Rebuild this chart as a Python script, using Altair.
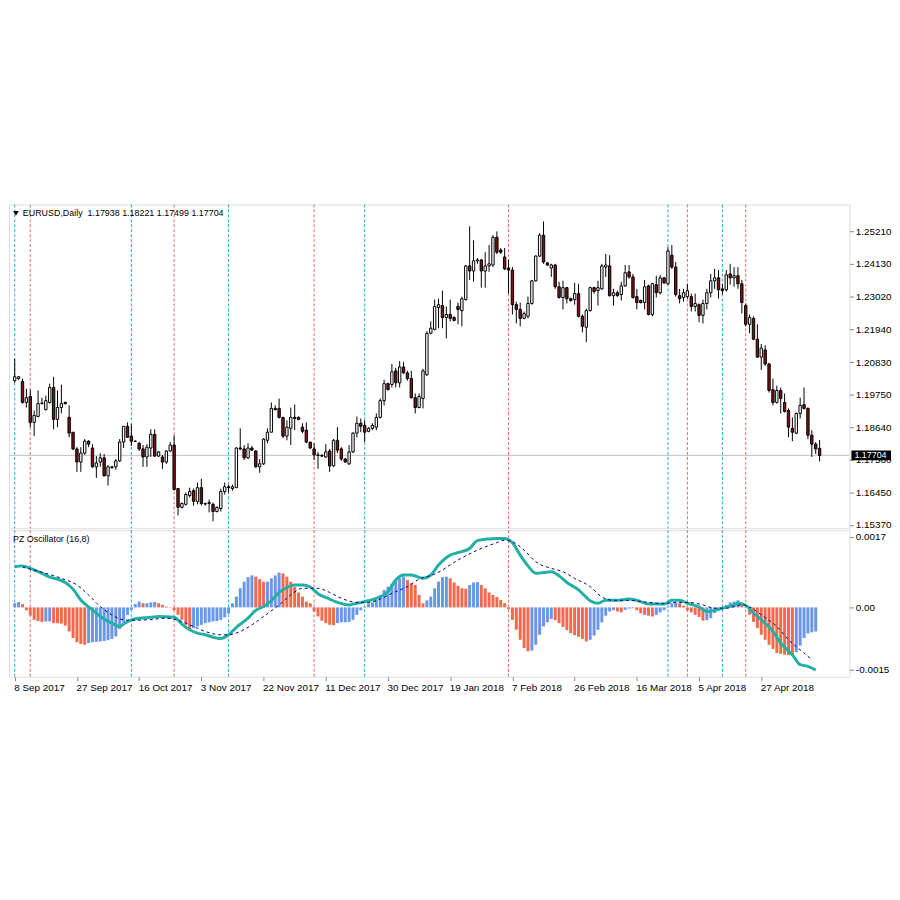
import altair as alt
import pandas as pd

# ---------------- data ----------------
symbol = "EURUSD,Daily"
indicator_name = "PZ Oscillator (16,8)"

open_ = [
    1.2021, 1.2028, 1.2018, 1.1948, 1.1968, 1.1881, 1.1901, 1.1944, 1.1924, 1.1948,
    1.1998, 1.1891, 1.1931, 1.1948, 1.1898, 1.1848, 1.1792, 1.1748, 1.1778, 1.1818,
    1.1795, 1.1732, 1.1748, 1.1762, 1.1702, 1.1729, 1.1732, 1.1752, 1.1815, 1.1868,
    1.1835, 1.1818, 1.1811, 1.1792, 1.1765, 1.1795, 1.1841, 1.1768, 1.1765, 1.1748,
    1.1785, 1.1805, 1.1659, 1.1596, 1.1606, 1.1636, 1.1652, 1.1616, 1.1662, 1.1609,
    1.1609, 1.1606, 1.1582, 1.1592, 1.1649, 1.1665, 1.1659, 1.1662, 1.1795, 1.1792,
    1.1762, 1.1795, 1.1785, 1.1732, 1.1742, 1.1821, 1.1848, 1.1928, 1.1928, 1.1898,
    1.1835, 1.1861, 1.1898, 1.1898, 1.1865, 1.1855, 1.1815, 1.1792, 1.1772, 1.1770,
    1.1765, 1.1785, 1.1735, 1.1821, 1.1792, 1.1758, 1.1742, 1.1782, 1.1845, 1.1878,
    1.1871, 1.1851, 1.1861, 1.1865, 1.1898, 1.1954, 1.2011, 1.2008, 1.2054, 1.2014,
    1.2067, 1.2047, 1.2028, 1.1964, 1.1931, 1.1961, 1.2041, 1.2180, 1.2193, 1.2266,
    1.2273, 1.2233, 1.2243, 1.2233, 1.2270, 1.2256, 1.2293, 1.2406, 1.2389, 1.2423,
    1.2426, 1.2389, 1.2406, 1.2409, 1.2502, 1.2459, 1.2436, 1.2399, 1.2392, 1.2276,
    1.2260, 1.2230, 1.2237, 1.2280, 1.2356, 1.2439, 1.2509, 1.2416, 1.2399, 1.2409,
    1.2336, 1.2300, 1.2333, 1.2296, 1.2293, 1.2313, 1.2237, 1.2200, 1.2256, 1.2333,
    1.2323, 1.2329, 1.2402, 1.2406, 1.2306, 1.2316, 1.2310, 1.2339, 1.2386, 1.2369,
    1.2303, 1.2290, 1.2283, 1.2339, 1.2243, 1.2343, 1.2316, 1.2366, 1.2346, 1.2442,
    1.2402, 1.2306, 1.2300, 1.2303, 1.2303, 1.2270, 1.2276, 1.2240, 1.2280, 1.2316,
    1.2356, 1.2366, 1.2329, 1.2326, 1.2379, 1.2366, 1.2373, 1.2346, 1.2273, 1.2210,
    1.2230, 1.2160, 1.2100, 1.2124, 1.2077, 1.1991, 1.1948, 1.1988, 1.1948, 1.1921,
    1.1861, 1.1845, 1.1911, 1.1941, 1.1928, 1.1838, 1.1808, 1.17938,
]
high_ = [
    1.2094, 1.2037, 1.2028, 1.1994, 1.1991, 1.1921, 1.1988, 1.1964, 1.1971, 1.2011,
    1.2034, 1.1988, 1.2008, 1.1951, 1.1938, 1.1848, 1.1798, 1.1798, 1.1825, 1.1821,
    1.1808, 1.1768, 1.1778, 1.1775, 1.1738, 1.1735, 1.1758, 1.1825, 1.1868, 1.1881,
    1.1875, 1.1821, 1.1815, 1.1805, 1.1808, 1.1858, 1.1858, 1.1785, 1.1772, 1.1788,
    1.1815, 1.1838, 1.1659, 1.1612, 1.1646, 1.1662, 1.1659, 1.1679, 1.1692, 1.1612,
    1.1622, 1.1612, 1.1599, 1.1659, 1.1679, 1.1672, 1.1672, 1.1798, 1.1861, 1.1805,
    1.1811, 1.1802, 1.1788, 1.1758, 1.1828, 1.1861, 1.1948, 1.1938, 1.1961, 1.1898,
    1.1888, 1.1931, 1.1941, 1.1901, 1.1878, 1.1881, 1.1815, 1.1811, 1.1782, 1.1775,
    1.1808, 1.1792, 1.1825, 1.1865, 1.1798, 1.1762, 1.1805, 1.1848, 1.1901, 1.1894,
    1.1888, 1.1865, 1.1878, 1.1911, 1.1961, 1.2024, 1.2014, 1.2077, 1.2064, 1.2087,
    1.2084, 1.2054, 1.2054, 1.1978, 1.1978, 1.2061, 1.2187, 1.2220, 1.2293, 1.2296,
    1.2323, 1.2270, 1.2293, 1.2237, 1.2283, 1.2303, 1.2409, 1.2539, 1.2492, 1.2432,
    1.2429, 1.2452, 1.2476, 1.2509, 1.2522, 1.2466, 1.2466, 1.2426, 1.2402, 1.2286,
    1.2283, 1.2253, 1.2303, 1.2359, 1.2442, 1.2516, 1.2555, 1.2419, 1.2413, 1.2413,
    1.2353, 1.2356, 1.2336, 1.2300, 1.2349, 1.2346, 1.2243, 1.2263, 1.2336, 1.2336,
    1.2356, 1.2413, 1.2446, 1.2442, 1.2329, 1.2323, 1.2353, 1.2409, 1.2409, 1.2379,
    1.2329, 1.2293, 1.2359, 1.2343, 1.2349, 1.2373, 1.2376, 1.2369, 1.2469, 1.2476,
    1.2419, 1.2329, 1.2329, 1.2346, 1.2313, 1.2313, 1.2280, 1.2293, 1.2329, 1.2379,
    1.2396, 1.2392, 1.2346, 1.2392, 1.2413, 1.2402, 1.2402, 1.2359, 1.2280, 1.2243,
    1.2237, 1.2210, 1.2144, 1.2140, 1.2081, 1.2028, 1.2004, 1.1998, 1.1978, 1.1928,
    1.1898, 1.1914, 1.1964, 1.1998, 1.1931, 1.1855, 1.1815, 1.18221,
]
low_ = [
    1.2014, 1.2024, 1.1944, 1.1931, 1.1865, 1.1835, 1.1898, 1.1941, 1.1921, 1.1944,
    1.1858, 1.1865, 1.1911, 1.1941, 1.1831, 1.1788, 1.1715, 1.1715, 1.1772, 1.1798,
    1.1729, 1.1695, 1.1732, 1.1699, 1.1669, 1.1725, 1.1722, 1.1748, 1.1795, 1.1831,
    1.1802, 1.1815, 1.1785, 1.1732, 1.1732, 1.1765, 1.1765, 1.1765, 1.1725, 1.1742,
    1.1782, 1.1652, 1.1569, 1.1592, 1.1602, 1.1629, 1.1602, 1.1606, 1.1602, 1.1602,
    1.1579, 1.1549, 1.1579, 1.1582, 1.1639, 1.1646, 1.1652, 1.1662, 1.1788, 1.1755,
    1.1758, 1.1785, 1.1729, 1.1712, 1.1738, 1.1811, 1.1848, 1.1921, 1.1894, 1.1828,
    1.1821, 1.1805, 1.1855, 1.1888, 1.1845, 1.1811, 1.1792, 1.1755, 1.1725, 1.1765,
    1.1762, 1.1715, 1.1732, 1.1778, 1.1752, 1.1745, 1.1738, 1.1778, 1.1831, 1.1848,
    1.1815, 1.1848, 1.1855, 1.1855, 1.1894, 1.1938, 1.1988, 1.1998, 1.1998, 1.1998,
    1.2044, 1.2021, 1.1961, 1.1911, 1.1928, 1.1928, 1.2037, 1.2177, 1.2190, 1.2197,
    1.2197, 1.2163, 1.2220, 1.2220, 1.2210, 1.2203, 1.2290, 1.2359, 1.2353, 1.2413,
    1.2333, 1.2333, 1.2386, 1.2402, 1.2446, 1.2446, 1.2392, 1.2313, 1.2243, 1.2213,
    1.2203, 1.2227, 1.2230, 1.2276, 1.2353, 1.2436, 1.2413, 1.2406, 1.2369, 1.2329,
    1.2296, 1.2260, 1.2280, 1.2286, 1.2276, 1.2233, 1.2183, 1.2150, 1.2253, 1.2313,
    1.2273, 1.2326, 1.2369, 1.2303, 1.2273, 1.2303, 1.2290, 1.2336, 1.2363, 1.2296,
    1.2260, 1.2280, 1.2260, 1.2240, 1.2237, 1.2300, 1.2310, 1.2346, 1.2343, 1.2396,
    1.2303, 1.2280, 1.2286, 1.2296, 1.2253, 1.2253, 1.2217, 1.2213, 1.2260, 1.2300,
    1.2329, 1.2296, 1.2310, 1.2320, 1.2343, 1.2336, 1.2329, 1.2246, 1.2203, 1.2180,
    1.2157, 1.2097, 1.2057, 1.2071, 1.1981, 1.1938, 1.1944, 1.1911, 1.1914, 1.1831,
    1.1818, 1.1841, 1.1894, 1.1924, 1.1825, 1.1765, 1.1775, 1.17499,
]
close_ = [
    1.2034, 1.2034, 1.1948, 1.1964, 1.1881, 1.1904, 1.1944, 1.1946, 1.1954, 1.1998,
    1.1891, 1.1931, 1.1944, 1.1944, 1.1845, 1.1792, 1.1748, 1.1778, 1.1818, 1.1808,
    1.1732, 1.1745, 1.1762, 1.1702, 1.1732, 1.1732, 1.1752, 1.1815, 1.1868, 1.1831,
    1.1818, 1.1817, 1.1792, 1.1765, 1.1798, 1.1841, 1.1768, 1.1782, 1.1748, 1.1785,
    1.1805, 1.1656, 1.1596, 1.1609, 1.1639, 1.1649, 1.1616, 1.1662, 1.1609, 1.1607,
    1.1612, 1.1582, 1.1596, 1.1649, 1.1665, 1.1662, 1.1665, 1.1795, 1.1792, 1.1762,
    1.1795, 1.1788, 1.1732, 1.1742, 1.1825, 1.1848, 1.1928, 1.1924, 1.1898, 1.1835,
    1.1865, 1.1898, 1.1894, 1.1891, 1.1851, 1.1815, 1.1795, 1.1772, 1.1770, 1.1768,
    1.1782, 1.1735, 1.1821, 1.1788, 1.1758, 1.1748, 1.1782, 1.1845, 1.1878, 1.1868,
    1.1848, 1.1861, 1.1871, 1.1898, 1.1954, 1.2011, 1.1991, 1.2051, 1.2014, 1.2067,
    1.2047, 1.2028, 1.1964, 1.1931, 1.1968, 1.2054, 1.2180, 1.2197, 1.2270, 1.2276,
    1.2233, 1.2243, 1.2230, 1.2223, 1.2260, 1.2296, 1.2406, 1.2389, 1.2423, 1.2426,
    1.2389, 1.2406, 1.2413, 1.2502, 1.2452, 1.2452, 1.2396, 1.2392, 1.2276, 1.2260,
    1.2230, 1.2246, 1.2280, 1.2356, 1.2439, 1.2509, 1.2419, 1.2409, 1.2409, 1.2336,
    1.2300, 1.2333, 1.2296, 1.2290, 1.2313, 1.2237, 1.2203, 1.2256, 1.2333, 1.2320,
    1.2333, 1.2406, 1.2409, 1.2306, 1.2316, 1.2306, 1.2339, 1.2383, 1.2369, 1.2300,
    1.2283, 1.2283, 1.2336, 1.2243, 1.2346, 1.2316, 1.2366, 1.2349, 1.2456, 1.2402,
    1.2310, 1.2296, 1.2316, 1.2323, 1.2270, 1.2280, 1.2240, 1.2280, 1.2316, 1.2356,
    1.2366, 1.2326, 1.2323, 1.2376, 1.2366, 1.2373, 1.2346, 1.2283, 1.2210, 1.2233,
    1.2160, 1.2100, 1.2130, 1.2077, 1.1988, 1.1948, 1.1988, 1.1961, 1.1918, 1.1865,
    1.1848, 1.1911, 1.1938, 1.1928, 1.1838, 1.1808, 1.1792, 1.17704,
]

# oscillator histogram (one value per bar) and its colour state (u = rising / blue, d = falling / red)
hist_vals = [
    0.00010, 0.00013, 0.00008, -0.00007, -0.00020, -0.00030, -0.00033, -0.00035, -0.00034, -0.00034,
    -0.00038, -0.00038, -0.00039, -0.00044, -0.00058, -0.00074, -0.00084, -0.00088, -0.00090, -0.00086,
    -0.00084, -0.00083, -0.00082, -0.00081, -0.00079, -0.00076, -0.00070, -0.00052, -0.00036, -0.00018,
    -0.00006, 0.00008, 0.00014, 0.00010, 0.00010, 0.00012, 0.00013, 0.00010, 0.00006, 0.00002,
    0.00001, -0.00007, -0.00018, -0.00030, -0.00042, -0.00052, -0.00050, -0.00046, -0.00042, -0.00038,
    -0.00036, -0.00034, -0.00033, -0.00030, -0.00024, -0.00015, 0.00010, 0.00026, 0.00046, 0.00062,
    0.00073, 0.00077, 0.00074, 0.00068, 0.00062, 0.00062, 0.00070, 0.00077, 0.00084, 0.00082,
    0.00074, 0.00062, 0.00049, 0.00036, 0.00026, 0.00014, 0.00010, -0.00010, -0.00022, -0.00032,
    -0.00038, -0.00042, -0.00043, -0.00038, -0.00036, -0.00036, -0.00035, -0.00030, -0.00018, -0.00007,
    0.00002, 0.00010, 0.00012, 0.00018, 0.00030, 0.00042, 0.00050, 0.00057, 0.00065, 0.00070,
    0.00074, 0.00066, 0.00058, 0.00054, 0.00030, 0.00010, 0.00017, 0.00026, 0.00046, 0.00062,
    0.00073, 0.00074, 0.00070, 0.00060, 0.00052, 0.00046, 0.00045, 0.00054, 0.00060, 0.00061,
    0.00054, 0.00046, 0.00036, 0.00030, 0.00025, 0.00018, 0.00010, -0.00004, -0.00030, -0.00054,
    -0.00078, -0.00098, -0.00106, -0.00104, -0.00090, -0.00066, -0.00046, -0.00036, -0.00028, -0.00031,
    -0.00038, -0.00047, -0.00055, -0.00062, -0.00067, -0.00071, -0.00076, -0.00082, -0.00078, -0.00068,
    -0.00054, -0.00036, -0.00020, -0.00010, -0.00007, -0.00010, -0.00012, -0.00006, -0.00003, -0.00002,
    -0.00007, -0.00014, -0.00018, -0.00020, -0.00022, -0.00018, -0.00012, -0.00007, 0.00002, 0.00010,
    0.00012, 0.00010, 0.00004, -0.00007, -0.00012, -0.00018, -0.00023, -0.00032, -0.00031, -0.00026,
    -0.00014, -0.00006, -0.00002, 0.00006, 0.00012, 0.00014, 0.00017, 0.00010, 0.00001, -0.00018,
    -0.00035, -0.00050, -0.00066, -0.00078, -0.00090, -0.00100, -0.00110, -0.00112, -0.00114, -0.00115,
    -0.00116, -0.00108, -0.00092, -0.00074, -0.00063, -0.00060, -0.00058,
]
hist_state = list(
    "uudddddduu" "dddddddddu" "uuuuuuuuuu" "uuuduuuddd" "dddddduuuu"
    "uuuuuuuuuu" "uuddduuuud" "dddddddddd" "ddduuuuuuu" "uuuuuuuuuu"
    "uddddduuuu" "uuddddduuu" "dddddddddd" "ddduuuuuud" "dddddddduu"
    "uuuuudduuu" "ddddduuuuu" "uddddddduu" "uuuuuuuddd" "dddddddddd"
    "duuuuuu"
)

# main oscillator line (bar index, value)
main_bar = [0, 2, 4, 7, 9, 11, 13, 15, 17, 19, 21, 23, 25, 27, 28, 30, 32, 35, 37, 41,
            43, 45, 47, 49, 52, 53, 55, 57, 60, 62, 64, 66, 68, 70, 72, 74, 76, 78, 81, 83,
            86, 88, 91, 93, 96, 98, 100, 102, 105, 107, 109, 112, 114, 117, 119, 122, 124, 126, 128, 130,
            132, 134, 136, 138, 140, 142, 145, 147, 148, 150, 152, 155, 158, 161, 163, 167, 169, 171, 173, 176,
            178, 180, 182, 185, 186, 188, 190, 192, 195, 197, 200, 202, 204, 206]
main_val = [0.00098, 0.00100, 0.00094, 0.00082, 0.00073, 0.00068, 0.00060, 0.00044, 0.00018, 0.00001,
            -0.00014, -0.00028, -0.00038, -0.00046, -0.00040, -0.00030, -0.00026, -0.00024, -0.00022, -0.00024,
            -0.00040, -0.00054, -0.00062, -0.00066, -0.00074, -0.00075, -0.00066, -0.00048, -0.00026, -0.00007,
            0.00002, 0.00016, 0.00036, 0.00048, 0.00054, 0.00054, 0.00049, 0.00033, 0.00020, 0.00012,
            0.00006, 0.00010, 0.00016, 0.00022, 0.00038, 0.00066, 0.00078, 0.00078, 0.00070, 0.00078,
            0.00102, 0.00126, 0.00132, 0.00142, 0.00161, 0.00165, 0.00166, 0.00166, 0.00156, 0.00126,
            0.00100, 0.00082, 0.00084, 0.00086, 0.00076, 0.00060, 0.00042, 0.00024, 0.00016, 0.00010,
            0.00017, 0.00017, 0.00020, 0.00014, 0.00008, 0.00008, 0.00017, 0.00017, 0.00010, 0.00001,
            -0.00010, -0.00007, -0.00002, 0.00006, 0.00010, 0.00005, -0.00014, -0.00030, -0.00058, -0.00086,
            -0.00114, -0.00138, -0.00142, -0.00151]

# signal line (bar index, value)
sig_bar = [2, 8, 12, 16, 19, 22, 25, 28, 30, 34, 39, 43, 46, 49, 53, 55, 58, 61, 64, 68,
           71, 74, 78, 81, 84, 88, 91, 94, 97, 101, 104, 108, 114, 119, 124, 126, 128, 131, 134, 138,
           141, 144, 148, 151, 154, 158, 162, 167, 170, 173, 177, 180, 183, 187, 189, 192, 196, 199, 203, 205]
sig_val = [0.00097, 0.00082, 0.00070, 0.00054, 0.00030, 0.00002, -0.00018, -0.00030, -0.00031, -0.00030,
           -0.00026, -0.00034, -0.00046, -0.00058, -0.00066, -0.00066, -0.00058, -0.00042, -0.00022, 0.00006,
           0.00030, 0.00046, 0.00046, 0.00036, 0.00022, 0.00012, 0.00012, 0.00020, 0.00034, 0.00050,
           0.00068, 0.00080, 0.00114, 0.00138, 0.00156, 0.00162, 0.00158, 0.00138, 0.00110, 0.00094,
           0.00086, 0.00070, 0.00050, 0.00025, 0.00017, 0.00017, 0.00013, 0.00009, 0.00012, 0.00012,
           0.00006, -0.00002, -0.00002, 0.00006, 0.00001, -0.00018, -0.00046, -0.00078, -0.00110, -0.00126]

# vertical signal markers (bar index)
sell_bars = [4, 41, 77, 127, 173, 188]
buy_bars = [0, 30, 55, 90, 168, 182]

# axis labels
date_ticks = [0, 16, 32, 48, 64, 80, 96, 112, 128, 144, 160, 176, 192]
date_labels = ["8 Sep 2017", "27 Sep 2017", "16 Oct 2017", "3 Nov 2017", "22 Nov 2017",
               "11 Dec 2017", "30 Dec 2017", "19 Jan 2018", "7 Feb 2018", "26 Feb 2018",
               "16 Mar 2018", "5 Apr 2018", "27 Apr 2018"]
price_ticks = [1.15370, 1.16450, 1.17560, 1.18640, 1.19750, 1.20830, 1.21940, 1.23020, 1.24130, 1.25210]
osc_ticks = [-0.0015, 0.0, 0.0017]

# colours
BULL, BEAR = "#FFFFFF", "#7A1414"
HIST_UP, HIST_DN = "#6A96EA", "#F4694E"
SELL_C, BUY_C = "#E0705C", "#27A8D3"

# ---------------- frames ----------------
n = len(close_)
candles = pd.DataFrame({"bar": list(range(n)), "open": open_, "high": high_,
                        "low": low_, "close": close_})
candles["fillc"] = [BULL if c >= o else BEAR for o, c in zip(open_, close_)]
hist_df = pd.DataFrame({"bar": list(range(len(hist_vals))), "value": hist_vals,
                        "fillc": [HIST_UP if s == "u" else HIST_DN for s in hist_state]})
main_df = pd.DataFrame({"bar": main_bar, "value": main_val})
sig_df = pd.DataFrame({"bar": sig_bar, "value": sig_val})
vl_df = pd.DataFrame({"bar": sell_bars + buy_bars,
                      "colc": [SELL_C] * len(sell_bars) + [BUY_C] * len(buy_bars)})
last_df = pd.DataFrame({"price": [close_[-1]]})
header = f"{symbol}\u00a0\u00a0{open_[-1]:.5f} {high_[-1]:.5f} {low_[-1]:.5f} {close_[-1]:.5f}"
hdr_df = pd.DataFrame({"t": [header]})
ind_df = pd.DataFrame({"t": [indicator_name]})

FONT = "Liberation Sans"
W = 849
H_TOP = 327
H_BOT = 148

xs = alt.Scale(domain=[-0.2, 213.4], nice=False, zero=False)
ys = alt.Scale(domain=[1.1526, 1.2612], nice=False, zero=False)
os_ = alt.Scale(domain=[-0.00167, 0.00186], nice=False, zero=False)

price_axis = alt.Axis(orient="right", values=price_ticks, format=".5f", title=None, grid=False,
                      domain=False, tickSize=4, labelPadding=2, labelFlush=False, labelOverlap=False)
osc_axis = alt.Axis(orient="right", values=osc_ticks, title=None, grid=False, domain=False,
                    tickSize=4, labelPadding=2, labelFlush=False, labelOverlap=False,
                    labelExpr="datum.value == 0 ? '0.00' : (datum.value < 0 ? '-' + format(-datum.value, '.4f') : format(datum.value, '.4f'))")
lbl_js = "[" + ",".join("'" + d + "'" for d in date_labels) + "]"
date_axis = alt.Axis(values=date_ticks, title=None, grid=False, domain=False, tickSize=4,
                     labelAlign="left", labelBaseline="top", labelPadding=2, labelFlush=False,
                     labelOverlap=False, labelOffset=-1,
                     labelExpr=lbl_js + "[round(datum.value / 16)]")

x_top = alt.X("bar:Q", scale=xs, axis=None)
x_bot = alt.X("bar:Q", scale=xs, axis=date_axis)
vcolor = alt.Color("colc:N", scale=None)

# ---------------- top panel ----------------
top_v = alt.Chart(vl_df).mark_rule(strokeDash=[3, 2], strokeWidth=1).encode(x=x_top, color=vcolor)
pline = alt.Chart(last_df).mark_rule(color="#C0C0C0", strokeWidth=1).encode(
    y=alt.Y("price:Q", scale=ys, axis=price_axis))
wicks = alt.Chart(candles).mark_rule(color="black", strokeWidth=1).encode(
    x=x_top, y=alt.Y("low:Q", scale=ys, axis=price_axis), y2="high:Q")
bodies = alt.Chart(candles).mark_bar(width=2.4, stroke="black", strokeWidth=1).encode(
    x=x_top, y=alt.Y("open:Q", scale=ys, axis=price_axis), y2="close:Q",
    fill=alt.Fill("fillc:N", scale=None))
tag = alt.Chart(last_df).mark_rect(color="black", yOffset=-5, y2Offset=5).encode(
    x=alt.value(W + 2), x2=alt.value(W + 42),
    y=alt.Y("price:Q", scale=ys, axis=price_axis), y2="price:Q")
tag_txt = alt.Chart(last_df).mark_text(color="white", align="left", baseline="middle",
                                       font=FONT, fontSize=9).encode(
    x=alt.value(W + 5), y=alt.Y("price:Q", scale=ys, axis=price_axis),
    text=alt.Text("price:Q", format=".5f"))
tri = alt.Chart(hdr_df).mark_point(shape="triangle-down", filled=True, color="black", size=32,
                                   opacity=1).encode(x=alt.value(7), y=alt.value(9))
hdr = alt.Chart(hdr_df).mark_text(align="left", baseline="middle", font=FONT, fontSize=9,
                                  color="black").encode(x=alt.value(14), y=alt.value(9), text="t:N")

top = alt.layer(top_v, pline, wicks, bodies, tag, tag_txt, tri, hdr).properties(width=W, height=H_TOP)

# ---------------- bottom panel ----------------
bot_v = alt.Chart(vl_df).mark_rule(strokeDash=[3, 2], strokeWidth=1).encode(x=x_bot, color=vcolor)
bars = alt.Chart(hist_df).mark_bar(width=3).encode(
    x=x_bot, y=alt.Y("value:Q", scale=os_, axis=osc_axis), y2=alt.datum(0),
    fill=alt.Fill("fillc:N", scale=None))
main_line = alt.Chart(main_df).mark_line(color="#22AFA4", strokeWidth=3, interpolate="monotone").encode(
    x=x_bot, y=alt.Y("value:Q", scale=os_, axis=osc_axis))
sig_line = alt.Chart(sig_df).mark_line(color="#00008B", strokeWidth=1, strokeDash=[3, 3],
                                       interpolate="monotone").encode(
    x=x_bot, y=alt.Y("value:Q", scale=os_, axis=osc_axis))
ind_lbl = alt.Chart(ind_df).mark_text(align="left", baseline="middle", font=FONT, fontSize=9,
                                      color="black").encode(x=alt.value(4), y=alt.value(9), text="t:N")

bottom = alt.layer(bot_v, bars, main_line, sig_line, ind_lbl).properties(width=W, height=H_BOT)

chart = alt.vconcat(top, bottom, spacing=2, bounds="flush").properties(
    padding={"top": 194, "left": 0, "right": 0, "bottom": 0}
).configure_view(stroke="black", strokeWidth=1).configure_axis(
    labelFont=FONT, labelFontSize=9, labelColor="black", tickColor="black", domainColor="black"
).configure(background="white")

chart.save("out.html", embed_options={"renderer": "svg", "actions": False})
